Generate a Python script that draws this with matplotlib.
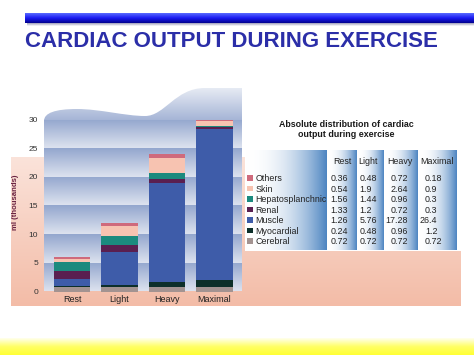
import numpy as np
import matplotlib
matplotlib.use('Agg')
import matplotlib.pyplot as plt
from matplotlib.colors import to_rgb
from matplotlib.path import Path
from matplotlib.patches import PathPatch, Rectangle

plt.rcParams['font.family'] = ['Liberation Sans', 'DejaVu Sans']

# ---------------- data ----------------
categories = ['Rest', 'Light', 'Heavy', 'Maximal']
regions = ['Others', 'Skin', 'Hepatosplanchnic', 'Renal', 'Muscle', 'Myocardial', 'Cerebral']
others = [0.36, 0.48, 0.72, 0.18]
skin = [0.54, 1.9, 2.64, 0.9]
hepatosplanchnic = [1.56, 1.44, 0.96, 0.3]
renal = [1.33, 1.2, 0.72, 0.3]
muscle = [1.26, 5.76, 17.28, 26.4]
myocardial = [0.24, 0.48, 0.96, 1.2]
cerebral = [0.72, 0.72, 0.72, 0.72]
yticks = [0, 5, 10, 15, 20, 25, 30]

title = 'CARDIAC OUTPUT DURING EXERCISE'
table_title = ['Absolute distribution of cardiac', 'output during exercise']
ylabel = 'ml (thousands)'

series = {'Others': others, 'Skin': skin, 'Hepatosplanchnic': hepatosplanchnic,
          'Renal': renal, 'Muscle': muscle, 'Myocardial': myocardial,
          'Cerebral': cerebral}
colors = {'Others': '#cf6a7c', 'Skin': '#f7c3b1', 'Hepatosplanchnic': '#1b8a7e',
          'Renal': '#5a1f50', 'Muscle': '#3e5ca9', 'Myocardial': '#0c2f2a',
          'Cerebral': '#a39391'}

W, H = 474, 355
fig = plt.figure(figsize=(W / 100, H / 100), dpi=100)
bg = fig.add_axes([0, 0, 1, 1])
bg.axis('off')


def grad_array(stops, n=256, gamma=1.0):
    t = np.linspace(0, 1, n) ** gamma
    pos = np.linspace(0, 1, len(stops))
    cols = np.array([to_rgb(c) for c in stops])
    return np.stack([np.interp(t, pos, cols[:, k]) for k in range(3)], axis=-1)


def vgrad(ax, x0, x1, ytop, ybot, stops, gamma=1.0, zorder=0, clip=None):
    arr = grad_array(stops, gamma=gamma)[:, None, :]
    im = ax.imshow(arr, extent=(x0, x1, ybot, ytop), origin='upper',
                   aspect='auto', interpolation='bilinear', zorder=zorder)
    if clip is not None:
        im.set_clip_path(clip)
    return im


def hgrad(ax, x0, x1, ytop, ybot, stops, gamma=1.0, zorder=0):
    arr = grad_array(stops, gamma=gamma)[None, :, :]
    return ax.imshow(arr, extent=(x0, x1, ybot, ytop), origin='upper',
                     aspect='auto', interpolation='bilinear', zorder=zorder)


# ---------------- slide decoration ----------------
# blue bar
vgrad(bg, 25, W, 14, 23.5, ['#5a6cff', '#1a1af2', '#00008c'], zorder=1)
vgrad(bg, 27, W, 23.5, 26.5, ['#9a9ab8', '#ffffff'], zorder=0.5)
bg.text(25, 47.3, title, fontsize=16.0, fontweight='bold', color='#2b2ea8',
        ha='left', va='baseline', zorder=3)

# salmon panel
vgrad(bg, 11, 460.5, 157, 306, ['#fbe3da', '#f3bca7'], zorder=0.5)

# yellow bottom band
vgrad(bg, 0, W, 338, H, ['#fffff0', '#ffff66', '#ffff33'], zorder=0.5)

# wavy top of plot area
verts = [(44, 121), (44, 113), (55, 109), (77, 109),
         (100, 109), (125, 116), (145, 116),
         (165, 116), (175, 88), (205, 88),
         (242, 88), (242, 121), (44, 121)]
codes = [Path.MOVETO, Path.CURVE4, Path.CURVE4, Path.CURVE4,
         Path.CURVE4, Path.CURVE4, Path.CURVE4,
         Path.CURVE4, Path.CURVE4, Path.CURVE4,
         Path.LINETO, Path.LINETO, Path.CLOSEPOLY]
wave = PathPatch(Path(verts, codes), facecolor='none', edgecolor='none',
                 transform=bg.transData)
bg.add_patch(wave)
vgrad(bg, 44, 242, 88, 121, ['#e6ebf4', '#a4b3d5'], zorder=1, clip=wave)

# table background
bg.add_patch(Rectangle((245.5, 140), 461 - 245.5, 251 - 140,
                       facecolor='white', edgecolor='none', zorder=1))
panels = [(246, 326.3), (327.5, 356.7), (357.8, 383.3), (385, 417.6), (419, 456.7)]
for (px0, px1) in panels:
    hgrad(bg, px0, px1, 150, 250, ['#ffffff', '#4c84c1'], gamma=2.2, zorder=2)

for i, line in enumerate(table_title):
    bg.text(346, 126.8 + 10 * i, line, fontsize=6.4, fontweight='bold',
            color='#1a1a1a', ha='center', va='baseline', zorder=3)

header_x = [342, 368.5, 400, 437]
for cx, cat in zip(header_x, categories):
    bg.text(cx, 164.3, cat, fontsize=6.4, color='#222222', ha='center',
            va='baseline', zorder=3)

fs = 6.4
digit_w = 0.556 * fs * 100 / 72
dec_x = [335.7, 364.3, 395.3, 429.8]
for r, name in enumerate(regions):
    yb = 181.3 + 10.45 * r
    bg.add_patch(Rectangle((247.3, yb - 6.0), 5.5, 5.5, facecolor=colors[name],
                           edgecolor='none', zorder=3))
    bg.text(255.7, yb, name, fontsize=fs, color='#222222', ha='left',
            va='baseline', zorder=3)
    for c, v in enumerate(series[name]):
        s = str(v)
        ip = s.split('.')[0]
        bg.text(dec_x[c] - len(ip) * digit_w, yb, s, fontsize=fs,
                color='#222222', ha='left', va='baseline', zorder=3)

bg.text(16, 202, ylabel, fontsize=5.6, fontweight='bold', color='#6a2342',
        rotation=90, ha='center', va='center', zorder=3)

bg.set_xlim(0, W)
bg.set_ylim(H, 0)

# ---------------- chart ----------------
px_left, px_right = 44, 242
px_top, px_bot = 119.5, 291.5
ax = fig.add_axes([px_left / W, (H - px_bot) / H, (px_right - px_left) / W,
                   (px_bot - px_top) / H])
ax.patch.set_visible(False)
for sp in ax.spines.values():
    sp.set_visible(False)

x = np.arange(len(categories))
xl0, xl1 = -0.59, 3.58
for lo in yticks[:-1]:
    vgrad(ax, xl0, xl1, lo + 5, lo, ['#93a6ce', '#dde3ef'], zorder=0)

bottom = np.zeros(len(categories))
for name in ['Cerebral', 'Myocardial', 'Muscle', 'Renal', 'Hepatosplanchnic', 'Skin', 'Others']:
    vals = np.array(series[name])
    ax.bar(x, vals, width=0.76, bottom=bottom, color=colors[name],
           linewidth=0, zorder=2, clip_on=False)
    bottom += vals

ax.set_xlim(xl0, xl1)
ax.set_ylim(0, 30)
ax.set_yticks(yticks)
ax.set_yticklabels([str(t) for t in yticks])
ax.set_xticks(x)
ax.set_xticklabels(categories)
ax.tick_params(axis='y', length=0, pad=4.3, labelsize=6, labelcolor='#333333')
ax.tick_params(axis='x', length=0, pad=2.6, labelsize=6.5, labelcolor='#222222')

fig.savefig('out.png', dpi=100)
